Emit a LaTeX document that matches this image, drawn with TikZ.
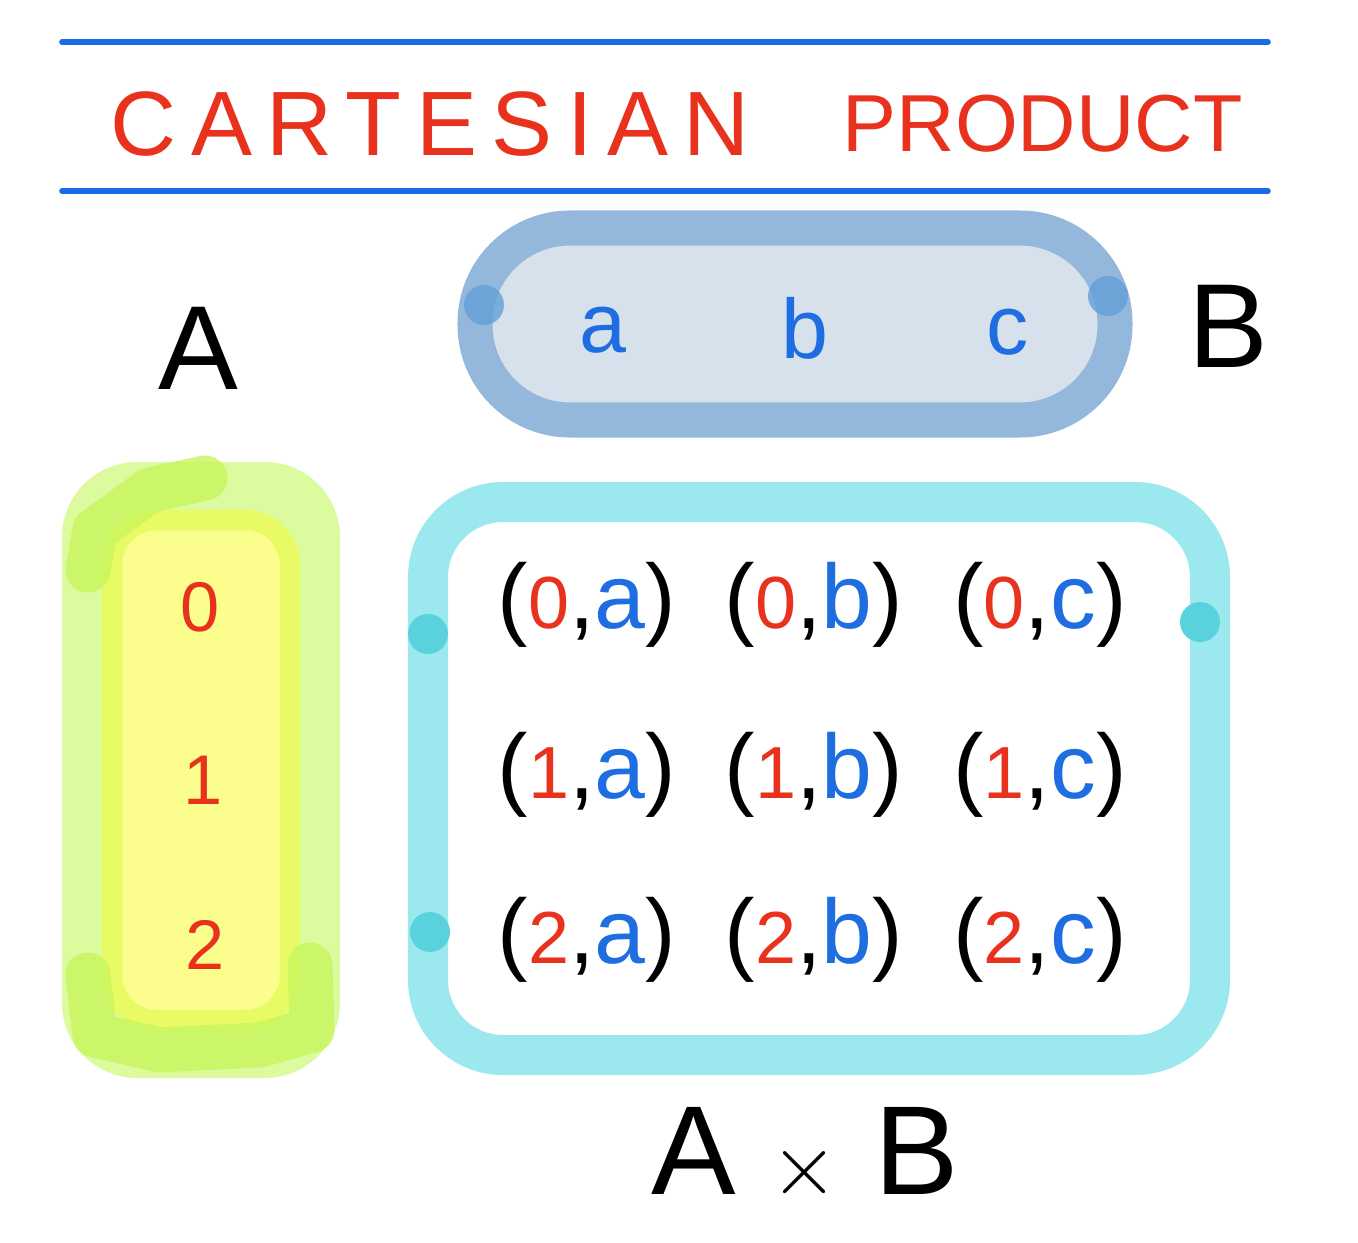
\documentclass[tikz,border=0pt]{standalone}
\usepackage{fontspec}
\setmainfont{Liberation Sans}
\definecolor{ruleblue}{RGB}{26,107,230}
\definecolor{titlered}{RGB}{232,50,30}
\definecolor{elred}{RGB}{232,50,30}
\definecolor{elblue}{RGB}{30,110,225}
\definecolor{setBline}{RGB}{148,184,220}
\definecolor{setBfill}{RGB}{214,225,236}
\definecolor{setBdot}{RGB}{100,160,215}
\definecolor{setAouter}{RGB}{220,251,158}
\definecolor{setAinner}{RGB}{251,253,140}
\definecolor{setAedge}{RGB}{232,251,100}
\definecolor{setAblob}{RGB}{200,245,92}
\definecolor{prodline}{RGB}{156,232,239}
\definecolor{proddot}{RGB}{90,210,222}
\newcommand{\cartpair}[2]{(\textcolor{elred}{\fontsize{21}{21}\selectfont#1},\textcolor{elblue}{#2})}
\tikzset{
  rule/.style={ruleblue, line width=1.6pt},
  title/.style={titlered, inner sep=0pt},
  setname/.style={font=\fontsize{34}{34}\selectfont},
  elem/.style={font=\fontsize{24}{24}\selectfont},
  pairtxt/.style={font=\fontsize{26}{26}\selectfont},
}
\begin{document}
\begin{tikzpicture}[x=0.01cm,y=-0.01cm, line join=round, line cap=round]
\useasboundingbox (0,0) rectangle (1358,1243);
% rules and title
\draw[rule] (62,42) -- (1268,42);
\draw[rule] (62,191) -- (1268,191);
\node[title, anchor=west, font=\fontsize{26}{26}\selectfont\addfontfeature{LetterSpace=16}] (cart) at (110,124) {CARTESIAN};
\node[title, anchor=west, font=\fontsize{23}{23}\selectfont] (prod) at (842,124) {PRODUCT};
% set B
\draw[setBline, line width=0.35cm, fill=setBfill, rounded corners=0.95cm] (475,228) rectangle (1115,420);
\fill[setBdot, opacity=0.8] (484,305) circle (20) (1108,296) circle (20);
\node[elem, elblue] (b1) at (603,330) {a};
\node[elem, elblue] (b2) at (805,328) {b};
\node[elem, elblue] (b3) at (1008,332) {c};
\node[setname] (nameB) at (1228,326) {B};
% set A
\fill[setAouter, rounded corners=0.75cm] (62,462) rectangle (340,1078);
\draw[setAedge, line width=0.2cm, fill=setAinner, rounded corners=0.45cm] (112,520) rectangle (290,1020);
\draw[setAblob, line width=0.45cm, opacity=0.8] (88,570) -- (95,530) -- (150,490) -- (205,478);
\draw[setAblob, line width=0.45cm, opacity=0.8] (88,975) -- (95,1035) -- (160,1050) -- (260,1045) -- (312,1030) -- (310,965);
\node[elem, elred, font=\fontsize{20}{20}\selectfont] (a1) at (200,607) {0};
\node[elem, elred, font=\fontsize{20}{20}\selectfont] (a2) at (203,780) {1};
\node[elem, elred, font=\fontsize{20}{20}\selectfont] (a3) at (205,945) {2};
\node[setname] (nameA) at (198,348) {A};
% product box
\draw[prodline, line width=0.4cm, rounded corners=0.75cm] (428,502) rectangle (1210,1055);
\fill[proddot] (428,634) circle (20) (1200,622) circle (20) (430,932) circle (20);
\foreach \i/\y in {0/605,1/775,2/940}
  \foreach \e/\x in {a/587,b/814,c/1040}
    \node[pairtxt] (p\i\e) at (\x,\y) {\cartpair{\i}{\e}};
\node[setname, font=\fontsize{36}{36}\selectfont] (nameAB) at (805,1155) {A $\times$ B};
\end{tikzpicture}
\end{document}
